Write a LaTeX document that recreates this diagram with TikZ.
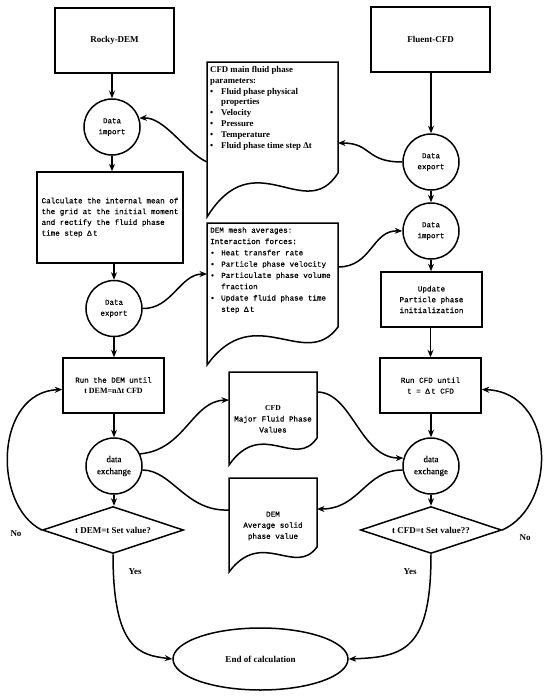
\documentclass[tikz,border=0pt]{standalone}
\usepackage{fontspec}
\setmainfont{Liberation Serif}
\newfontfamily\monof[FakeBold=0.6]{Liberation Mono}
\newfontfamily\xserif[FakeBold=0.4]{Liberation Serif}
\usetikzlibrary{shapes.geometric,arrows.meta}
\newcommand{\docbul}{\makebox[11pt][l]{•}}
\begin{document}
\begin{tikzpicture}[x=1pt,y=-1pt,
  lw/.style={line width=1.5pt},
  arr/.style={lw,-{Stealth[length=7.5pt,width=6pt]}},
  plain/.style={lw},
  boxn/.style={draw,lw,rectangle,inner sep=1pt,align=center},
  circn/.style={draw,lw,circle,minimum size=56pt,inner sep=0pt,align=center,font=\monof\fontsize{7.5}{11}\selectfont},
  xcirc/.style={draw,lw,circle,minimum size=56pt,inner sep=0pt,align=center,font=\xserif\fontsize{9}{12}\selectfont},
  dian/.style={draw,lw,diamond,shape aspect=3,minimum width=141pt,minimum height=47pt,inner sep=0pt,font=\bfseries\fontsize{9}{11}\selectfont},
  bold9/.style={font=\bfseries\fontsize{9}{11}\selectfont},
  monot/.style={font=\monof\fontsize{7.6}{10.8}\selectfont},
  lbl/.style={font=\bfseries\fontsize{9}{11}\selectfont,inner sep=0pt},
  doc/.style={draw,lw,line join=miter}
]
\useasboundingbox (0,0) rectangle (550,697);

% left column
\node[boxn,bold9,minimum width=119pt,minimum height=65pt] (rocky) at (114.5,40.5) {Rocky-DEM};
\node[circn] (dimL) at (112,127) {Data\\import};
\node[boxn,monot,minimum width=146pt,minimum height=91pt,align=left] (calc) at (110,217.5) {Calculate the internal mean of\\the grid at the initial moment\\and rectify the fluid phase\\time step Δ\,t};
\node[circn] (dexL) at (114,308.5) {Data\\export};
\node[boxn,minimum width=101pt,minimum height=55pt,font=\fontsize{8}{11}\selectfont] (runD) at (113.5,385.5) {{\monof\fontsize{7.5}{11}\selectfont Run the DEM until}\\{\bfseries t DEM=nΔt CFD}};
\node[xcirc] (dxL) at (114,466) {data\\exchange};
\node[dian] (diaL) at (113,530) {t DEM=t Set value?};

% right column
\node[boxn,bold9,minimum width=119pt,minimum height=65pt] (fluent) at (430.5,39.5) {Fluent-CFD};
\node[circn] (dexR) at (431,162) {Data\\export};
\node[circn] (dimR) at (431,231) {Data\\import};
\node[boxn,monot,minimum width=101pt,minimum height=55pt] (upd) at (431.5,299.5) {Update\\Particle phase\\initialization};
\node[boxn,monot,minimum width=101pt,minimum height=55pt] (runC) at (430.5,385.5) {Run CFD until\\t = Δ\,t CFD};
\node[xcirc] (dxR) at (431,466) {data\\exchange};
\node[dian] (diaR) at (431,530) {t CFD=t Set value??};

\node[draw,lw,ellipse,minimum width=175pt,minimum height=62pt,inner sep=0pt,bold9] (endc) at (260.5,659) {End of calculation};

% documents
\draw[doc] (207,62) -- (338,62) -- (338,173) .. controls (305,225) and (255,140) .. (207,217) -- cycle;
\node[anchor=north west,inner sep=0pt,align=left,font=\bfseries\fontsize{8.8}{10.8}\selectfont] (cfdtxt) at (210,66) {CFD main fluid phase\\parameters:\\\docbul Fluid phase physical\\\hspace*{11pt}properties\\\docbul Velocity\\\docbul Pressure\\\docbul Temperature\\\docbul Fluid phase time step Δt};

\draw[doc] (207,223) -- (338,223) -- (338,327) .. controls (305,372) and (255,299) .. (207,365) -- cycle;
\node[anchor=north west,inner sep=0pt,align=left,font=\monof\fontsize{7.6}{11.3}\selectfont] (demtxt) at (210,227) {DEM mesh averages:\\Interaction forces:\\\docbul Heat transfer rate\\\docbul Particle phase velocity\\\docbul Particulate phase volume\\\hspace*{11pt}fraction\\\docbul Update fluid phase time\\\hspace*{11pt}step Δ\,t};

\draw[doc] (229,372) -- (317,372) -- (317,438) .. controls (295,470) and (262,418) .. (229,465) -- cycle;
\node[align=center,inner sep=0pt,font=\monof\fontsize{7.6}{11}\selectfont] (majtxt) at (273,419) {{\rmfamily\bfseries CFD}\\Major Fluid Phase\\Values};

\draw[doc] (229,478) -- (317,478) -- (317,547) .. controls (295,577) and (262,528) .. (229,572) -- cycle;
\node[align=center,inner sep=0pt,font=\monof\fontsize{7.6}{11}\selectfont] (avgtxt) at (273,526) {DEM\\Average solid\\phase value};

\coordinate (cfdR) at (338,143);
\coordinate (cfdL) at (207,162);
\coordinate (demL) at (207,274);
\coordinate (demR) at (338,267);
\coordinate (majL) at (229,400);
\coordinate (majR) at (317,392);
\coordinate (avgR) at (317,509);
\coordinate (avgL) at (229,510);

% straight arrows
\draw[arr] (rocky.south -| dimL) -- (dimL.north);
\draw[arr] (dimL.south) -- (dimL.south |- calc.north);
\draw[arr] (calc.south -| dexL) -- (dexL.north);
\draw[arr] (dexL.south) -- (dexL.south |- runD.north);
\draw[arr] (runD.south -| dxL) -- (dxL.north);
\draw[arr] (dxL.south) -- (dxL.south |- diaL.north);
\draw[arr] (fluent.south -| dexR) -- (dexR.north);
\draw[arr] (dexR) -- (dimR);
\draw[arr] (dimR.south) -- (dimR.south |- upd.north);
\draw[arr] (upd.south -| runC) -- (runC.north);
\draw[arr] (runC.south -| dxR) -- (dxR.north);
\draw[arr] (dxR) -- (diaR);

% curved connectors
\draw[arr] (dexR.west) .. controls (365,162) and (372,143) .. (cfdR);
\draw[arr] (cfdL) .. controls (185,152) and (165,117) .. (dimL.18);
\draw[arr] (dexL.east) .. controls (172,309) and (180,274) .. (demL);
\draw[arr] (demR) .. controls (372,267) and (372,230) .. (dimR.west);
\draw[arr] (dxL.25) .. controls (185,450) and (192,401) .. (majL);
\draw[arr] (majR) .. controls (352,392) and (360,458) .. (dxR.164);
\draw[arr] (dxR.188) .. controls (365,470) and (360,509) .. (avgR);
\draw[plain] (dxL.-8) .. controls (172,470) and (186,512) .. (avgL);

% loops
\draw[arr] (diaL.west) .. controls (-8,505) and (-5,392) .. ([yshift=-4pt]runD.west);
\draw[arr] (diaR.east) .. controls (558,505) and (556,392) .. ([yshift=-4pt]runC.east);
\draw[arr] (diaL.south) .. controls (113,650) and (140,655) .. (endc.west);
\draw[arr] (diaR.south) .. controls (431,650) and (404,657) .. (endc.east);

\node[lbl] (noL) at (16,534) {No};
\node[lbl] (yesL) at (135,572) {Yes};
\node[lbl] (yesR) at (410,572) {Yes};
\node[lbl] (noR) at (525,538) {No};
\end{tikzpicture}
\end{document}
